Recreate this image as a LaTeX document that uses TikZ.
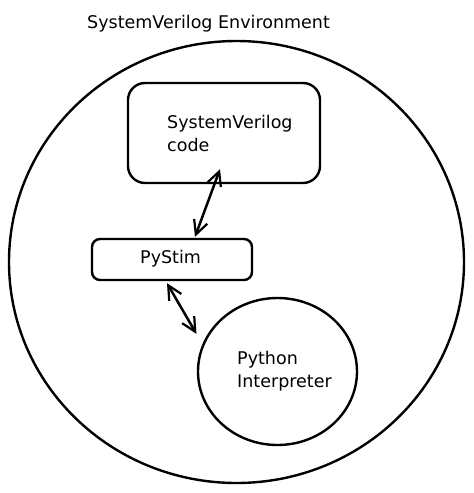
\documentclass[tikz,border=0pt]{standalone}
\usepackage{fontspec}
\setmainfont{DejaVu Sans}
\usetikzlibrary{shapes.geometric,arrows.meta}
\begin{document}
\begin{tikzpicture}[x=1pt,y=-1pt,
  stroke/.style={draw=black,line width=2.4pt},
  lbl/.style={font=\fontsize{17.5}{23}\selectfont,inner sep=0pt,align=left},
  arr/.style={line width=2.5pt,line cap=round,{Straight Barb[length=14pt,width=14pt,line width=2.2pt]}-{Straight Barb[length=14pt,width=14pt,line width=2.2pt]}}
]
\useasboundingbox (0,0) rectangle (474,493);
\fill[white] (0,0) rectangle (474,493);
\node[lbl,anchor=base west] (title) at (87,28) {SystemVerilog Environment};
\node[stroke,ellipse,minimum width=455pt,minimum height=442pt,inner sep=0pt] (env) at (236.5,262) {};
\node[stroke,rectangle,rounded corners=17pt,minimum width=192pt,minimum height=100pt,inner sep=0pt] (sv) at (224,133) {};
\node[lbl,anchor=base west] (svt) at (167,151) {SystemVerilog\\code};
\node[stroke,rectangle,rounded corners=8pt,minimum width=160pt,minimum height=41pt,inner sep=0pt] (ps) at (172,259.5) {};
\node[lbl,anchor=base west] (pst) at (140,263) {PyStim};
\node[stroke,ellipse,minimum width=159pt,minimum height=147pt,inner sep=0pt] (py) at (277.5,371.5) {};
\node[lbl,anchor=base west] (pyt) at (237,387) {Python\\Interpreter};
\draw[arr] ([xshift=23pt,yshift=1pt]ps.north) -- ([xshift=-4pt,yshift=15pt]sv.south);
\draw[arr] ([xshift=-5pt,yshift=-2pt]ps.south) -- ([xshift=-9pt,yshift=4pt]py.155);
\end{tikzpicture}
\end{document}
